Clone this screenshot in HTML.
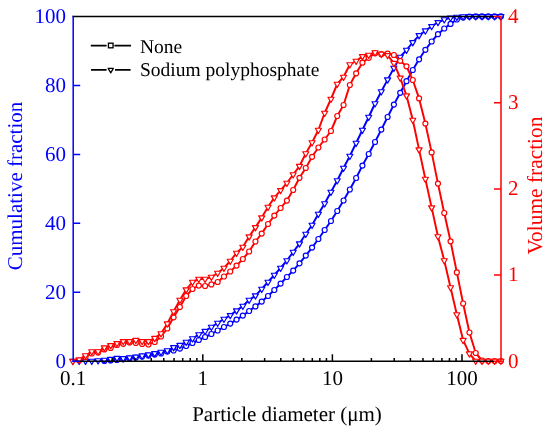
<!DOCTYPE html>
<html><head><meta charset="utf-8"><style>
html,body{margin:0;padding:0;background:#fff;width:550px;height:430px;overflow:hidden}
svg{display:block}
text{text-rendering:geometricPrecision}
</style></head><body>
<svg width="550" height="430" viewBox="0 0 550 430">
<rect width="550" height="430" fill="#fff"/>
<polyline fill="none" stroke="#0000ff" stroke-width="1.95" stroke-linejoin="round" points="72.9,361 79.19,361 85.49,361 91.78,361 98.08,361 104.37,361 110.66,360.5 116.96,360 123.25,359.2 129.55,358.4 135.84,357.6 142.14,356.6 148.43,355.5 154.72,354.4 161.02,353.5 167.31,351.5 173.61,350.5 179.9,348.6 186.19,346 192.49,343 198.78,340 205.08,337 211.37,334 217.66,330.5 223.96,327 230.25,323.6 236.55,319.6 242.84,315.6 249.14,311 255.43,306.4 261.72,301.6 268.02,296 274.31,290 280.61,283.6 286.9,277 293.19,270.6 299.49,263.3 305.78,255.6 312.08,247.6 318.37,239 324.66,230 330.96,221 337.25,211 343.55,200.5 349.84,189.5 356.14,178 362.43,165.6 368.72,154 375.02,142 381.31,129.6 387.61,117 393.9,104.6 400.19,92.8 406.49,81.2 412.78,70 419.08,59.3 425.37,49.8 431.66,41.5 437.96,34.2 444.25,28.5 450.55,23.9 456.84,19.5 463.14,17.5 469.43,16.6 475.72,16.4 482.02,16.4 488.31,16.4 494.61,16.4 500.9,16.4"/>
<g fill="#fff" stroke="#0000ff" stroke-width="1.2" stroke-linejoin="round"><circle cx="104.37" cy="361" r="2.5"/><circle cx="110.66" cy="360.5" r="2.5"/><circle cx="116.96" cy="360" r="2.5"/><circle cx="123.25" cy="359.2" r="2.5"/><circle cx="129.55" cy="358.4" r="2.5"/><circle cx="135.84" cy="357.6" r="2.5"/><circle cx="142.14" cy="356.6" r="2.5"/><circle cx="148.43" cy="355.5" r="2.5"/><circle cx="154.72" cy="354.4" r="2.5"/><circle cx="161.02" cy="353.5" r="2.5"/><circle cx="167.31" cy="351.5" r="2.5"/><circle cx="173.61" cy="350.5" r="2.5"/><circle cx="179.9" cy="348.6" r="2.5"/><circle cx="186.19" cy="346" r="2.5"/><circle cx="192.49" cy="343" r="2.5"/><circle cx="198.78" cy="340" r="2.5"/><circle cx="205.08" cy="337" r="2.5"/><circle cx="211.37" cy="334" r="2.5"/><circle cx="217.66" cy="330.5" r="2.5"/><circle cx="223.96" cy="327" r="2.5"/><circle cx="230.25" cy="323.6" r="2.5"/><circle cx="236.55" cy="319.6" r="2.5"/><circle cx="242.84" cy="315.6" r="2.5"/><circle cx="249.14" cy="311" r="2.5"/><circle cx="255.43" cy="306.4" r="2.5"/><circle cx="261.72" cy="301.6" r="2.5"/><circle cx="268.02" cy="296" r="2.5"/><circle cx="274.31" cy="290" r="2.5"/><circle cx="280.61" cy="283.6" r="2.5"/><circle cx="286.9" cy="277" r="2.5"/><circle cx="293.19" cy="270.6" r="2.5"/><circle cx="299.49" cy="263.3" r="2.5"/><circle cx="305.78" cy="255.6" r="2.5"/><circle cx="312.08" cy="247.6" r="2.5"/><circle cx="318.37" cy="239" r="2.5"/><circle cx="324.66" cy="230" r="2.5"/><circle cx="330.96" cy="221" r="2.5"/><circle cx="337.25" cy="211" r="2.5"/><circle cx="343.55" cy="200.5" r="2.5"/><circle cx="349.84" cy="189.5" r="2.5"/><circle cx="356.14" cy="178" r="2.5"/><circle cx="362.43" cy="165.6" r="2.5"/><circle cx="368.72" cy="154" r="2.5"/><circle cx="375.02" cy="142" r="2.5"/><circle cx="381.31" cy="129.6" r="2.5"/><circle cx="387.61" cy="117" r="2.5"/><circle cx="393.9" cy="104.6" r="2.5"/><circle cx="400.19" cy="92.8" r="2.5"/><circle cx="406.49" cy="81.2" r="2.5"/><circle cx="412.78" cy="70" r="2.5"/><circle cx="419.08" cy="59.3" r="2.5"/><circle cx="425.37" cy="49.8" r="2.5"/><circle cx="431.66" cy="41.5" r="2.5"/><circle cx="437.96" cy="34.2" r="2.5"/><circle cx="444.25" cy="28.5" r="2.5"/><circle cx="450.55" cy="23.9" r="2.5"/><circle cx="456.84" cy="19.5" r="2.5"/><circle cx="463.14" cy="17.5" r="2.5"/><circle cx="469.43" cy="16.6" r="2.5"/><circle cx="475.72" cy="16.4" r="2.5"/><circle cx="482.02" cy="16.4" r="2.5"/><circle cx="488.31" cy="16.4" r="2.5"/><circle cx="494.61" cy="16.4" r="2.5"/><circle cx="500.9" cy="16.4" r="2.5"/></g>
<polyline fill="none" stroke="#0000ff" stroke-width="1.95" stroke-linejoin="round" points="72.9,361 79.19,361 85.49,361 91.78,361 98.08,360.5 104.37,360 110.66,359.1 116.96,358.1 123.25,358.4 129.55,357.6 135.84,356.8 142.14,355.7 148.43,354.6 154.72,353.4 161.02,352 167.31,350.5 173.61,347.4 179.9,345.2 186.19,342 192.49,338.5 198.78,334.5 205.08,331.2 211.37,327 217.66,323 223.96,319 230.25,315.3 236.55,310.6 242.84,306 249.14,300 255.43,295.6 261.72,289 268.02,282 274.31,275 280.61,268 286.9,260.5 293.19,252 299.49,243.6 305.78,234 312.08,225 318.37,214 324.66,203.5 330.96,192 337.25,180.5 343.55,168 349.84,156 356.14,143 362.43,130 368.72,117 375.02,103.5 381.31,91.5 387.61,79.6 393.9,68 400.19,57 406.49,50 412.78,42.4 419.08,35.4 425.37,30.7 431.66,26.3 437.96,22.3 444.25,19.5 450.55,17.8 456.84,17 463.14,16.5 469.43,16.4 475.72,16.4 482.02,16.4 488.31,16.4 494.61,16.4 500.9,16.4"/>
<g fill="#fff" stroke="#0000ff" stroke-width="1.2" stroke-linejoin="round"><path d="M69.87 359.25H75.93L72.9 364.5Z"/><path d="M76.16 359.25H82.22L79.19 364.5Z"/><path d="M82.46 359.25H88.52L85.49 364.5Z"/><path d="M88.75 359.25H94.81L91.78 364.5Z"/><path d="M95.05 358.75H101.11L98.08 364Z"/><path d="M101.34 358.25H107.4L104.37 363.5Z"/><path d="M107.63 357.35H113.69L110.66 362.6Z"/><path d="M113.93 356.35H119.99L116.96 361.6Z"/><path d="M120.22 356.65H126.28L123.25 361.9Z"/><path d="M126.52 355.85H132.58L129.55 361.1Z"/><path d="M132.81 355.05H138.87L135.84 360.3Z"/><path d="M139.11 353.95H145.17L142.14 359.2Z"/><path d="M145.4 352.85H151.46L148.43 358.1Z"/><path d="M151.69 351.65H157.75L154.72 356.9Z"/><path d="M157.99 350.25H164.05L161.02 355.5Z"/><path d="M164.28 348.75H170.34L167.31 354Z"/><path d="M170.58 345.65H176.64L173.61 350.9Z"/><path d="M176.87 343.45H182.93L179.9 348.7Z"/><path d="M183.16 340.25H189.22L186.19 345.5Z"/><path d="M189.46 336.75H195.52L192.49 342Z"/><path d="M195.75 332.75H201.81L198.78 338Z"/><path d="M202.05 329.45H208.11L205.08 334.7Z"/><path d="M208.34 325.25H214.4L211.37 330.5Z"/><path d="M214.63 321.25H220.69L217.66 326.5Z"/><path d="M220.93 317.25H226.99L223.96 322.5Z"/><path d="M227.22 313.55H233.28L230.25 318.8Z"/><path d="M233.52 308.85H239.58L236.55 314.1Z"/><path d="M239.81 304.25H245.87L242.84 309.5Z"/><path d="M246.11 298.25H252.17L249.14 303.5Z"/><path d="M252.4 293.85H258.46L255.43 299.1Z"/><path d="M258.69 287.25H264.75L261.72 292.5Z"/><path d="M264.99 280.25H271.05L268.02 285.5Z"/><path d="M271.28 273.25H277.34L274.31 278.5Z"/><path d="M277.58 266.25H283.64L280.61 271.5Z"/><path d="M283.87 258.75H289.93L286.9 264Z"/><path d="M290.16 250.25H296.22L293.19 255.5Z"/><path d="M296.46 241.85H302.52L299.49 247.1Z"/><path d="M302.75 232.25H308.81L305.78 237.5Z"/><path d="M309.05 223.25H315.11L312.08 228.5Z"/><path d="M315.34 212.25H321.4L318.37 217.5Z"/><path d="M321.63 201.75H327.69L324.66 207Z"/><path d="M327.93 190.25H333.99L330.96 195.5Z"/><path d="M334.22 178.75H340.28L337.25 184Z"/><path d="M340.52 166.25H346.58L343.55 171.5Z"/><path d="M346.81 154.25H352.87L349.84 159.5Z"/><path d="M353.11 141.25H359.17L356.14 146.5Z"/><path d="M359.4 128.25H365.46L362.43 133.5Z"/><path d="M365.69 115.25H371.75L368.72 120.5Z"/><path d="M371.99 101.75H378.05L375.02 107Z"/><path d="M378.28 89.75H384.34L381.31 95Z"/><path d="M384.58 77.85H390.64L387.61 83.1Z"/><path d="M390.87 66.25H396.93L393.9 71.5Z"/><path d="M397.16 55.25H403.22L400.19 60.5Z"/><path d="M403.46 48.25H409.52L406.49 53.5Z"/><path d="M409.75 40.65H415.81L412.78 45.9Z"/><path d="M416.05 33.65H422.11L419.08 38.9Z"/><path d="M422.34 28.95H428.4L425.37 34.2Z"/><path d="M428.63 24.55H434.69L431.66 29.8Z"/><path d="M434.93 20.55H440.99L437.96 25.8Z"/><path d="M441.22 17.75H447.28L444.25 23Z"/><path d="M447.52 16.05H453.58L450.55 21.3Z"/><path d="M453.81 15.25H459.87L456.84 20.5Z"/><path d="M460.11 14.75H466.17L463.14 20Z"/><path d="M466.4 14.65H472.46L469.43 19.9Z"/><path d="M472.69 14.65H478.75L475.72 19.9Z"/><path d="M478.99 14.65H485.05L482.02 19.9Z"/><path d="M485.28 14.65H491.34L488.31 19.9Z"/><path d="M491.58 14.65H497.64L494.61 19.9Z"/><path d="M497.87 14.65H503.93L500.9 19.9Z"/></g>
<polyline fill="none" stroke="#ff0000" stroke-width="1.95" stroke-linejoin="round" points="72.9,361.5 79.19,360.5 85.49,357 91.78,353.5 98.08,352.5 104.37,349.4 110.66,348 116.96,345 123.25,343.8 129.55,342.5 135.84,343 142.14,344 148.43,344.5 154.72,342 161.02,336.5 167.31,328.5 173.61,317.3 179.9,307 186.19,296 192.49,289 198.78,285.6 205.08,286 211.37,284.4 217.66,282 223.96,276.5 230.25,271.5 236.55,265.6 242.84,259 249.14,251.5 255.43,241.5 261.72,233.6 268.02,224 274.31,215.6 280.61,208 286.9,200.6 293.19,190 299.49,177.8 305.78,168 312.08,156.8 318.37,147.5 324.66,139.5 330.96,131 337.25,116 343.55,105 349.84,85 356.14,73.3 362.43,62.7 368.72,57.8 375.02,53.2 381.31,54.2 387.61,53.7 393.9,55 400.19,60.8 406.49,66.3 412.78,80 419.08,98.4 425.37,123.6 431.66,152.4 437.96,183.6 444.25,213 450.55,241.3 456.84,272.4 463.14,303.5 469.43,332.5 475.72,353 482.02,360.5 488.31,361 494.61,361 500.9,361"/>
<g fill="#fff" stroke="#ff0000" stroke-width="1.2" stroke-linejoin="round"><circle cx="79.19" cy="360.5" r="2.5"/><circle cx="85.49" cy="357" r="2.5"/><circle cx="91.78" cy="353.5" r="2.5"/><circle cx="98.08" cy="352.5" r="2.5"/><circle cx="104.37" cy="349.4" r="2.5"/><circle cx="110.66" cy="348" r="2.5"/><circle cx="116.96" cy="345" r="2.5"/><circle cx="123.25" cy="343.8" r="2.5"/><circle cx="129.55" cy="342.5" r="2.5"/><circle cx="135.84" cy="343" r="2.5"/><circle cx="142.14" cy="344" r="2.5"/><circle cx="148.43" cy="344.5" r="2.5"/><circle cx="154.72" cy="342" r="2.5"/><circle cx="161.02" cy="336.5" r="2.5"/><circle cx="167.31" cy="328.5" r="2.5"/><circle cx="173.61" cy="317.3" r="2.5"/><circle cx="179.9" cy="307" r="2.5"/><circle cx="186.19" cy="296" r="2.5"/><circle cx="192.49" cy="289" r="2.5"/><circle cx="198.78" cy="285.6" r="2.5"/><circle cx="205.08" cy="286" r="2.5"/><circle cx="211.37" cy="284.4" r="2.5"/><circle cx="217.66" cy="282" r="2.5"/><circle cx="223.96" cy="276.5" r="2.5"/><circle cx="230.25" cy="271.5" r="2.5"/><circle cx="236.55" cy="265.6" r="2.5"/><circle cx="242.84" cy="259" r="2.5"/><circle cx="249.14" cy="251.5" r="2.5"/><circle cx="255.43" cy="241.5" r="2.5"/><circle cx="261.72" cy="233.6" r="2.5"/><circle cx="268.02" cy="224" r="2.5"/><circle cx="274.31" cy="215.6" r="2.5"/><circle cx="280.61" cy="208" r="2.5"/><circle cx="286.9" cy="200.6" r="2.5"/><circle cx="293.19" cy="190" r="2.5"/><circle cx="299.49" cy="177.8" r="2.5"/><circle cx="305.78" cy="168" r="2.5"/><circle cx="312.08" cy="156.8" r="2.5"/><circle cx="318.37" cy="147.5" r="2.5"/><circle cx="324.66" cy="139.5" r="2.5"/><circle cx="330.96" cy="131" r="2.5"/><circle cx="337.25" cy="116" r="2.5"/><circle cx="343.55" cy="105" r="2.5"/><circle cx="349.84" cy="85" r="2.5"/><circle cx="356.14" cy="73.3" r="2.5"/><circle cx="362.43" cy="62.7" r="2.5"/><circle cx="368.72" cy="57.8" r="2.5"/><circle cx="375.02" cy="53.2" r="2.5"/><circle cx="381.31" cy="54.2" r="2.5"/><circle cx="387.61" cy="53.7" r="2.5"/><circle cx="393.9" cy="55" r="2.5"/><circle cx="400.19" cy="60.8" r="2.5"/><circle cx="406.49" cy="66.3" r="2.5"/><circle cx="412.78" cy="80" r="2.5"/><circle cx="419.08" cy="98.4" r="2.5"/><circle cx="425.37" cy="123.6" r="2.5"/><circle cx="431.66" cy="152.4" r="2.5"/><circle cx="437.96" cy="183.6" r="2.5"/><circle cx="444.25" cy="213" r="2.5"/><circle cx="450.55" cy="241.3" r="2.5"/><circle cx="456.84" cy="272.4" r="2.5"/><circle cx="463.14" cy="303.5" r="2.5"/><circle cx="469.43" cy="332.5" r="2.5"/><circle cx="475.72" cy="353" r="2.5"/><circle cx="482.02" cy="360.5" r="2.5"/><circle cx="488.31" cy="361" r="2.5"/><circle cx="494.61" cy="361" r="2.5"/><circle cx="500.9" cy="361" r="2.5"/></g>
<polyline fill="none" stroke="#ff0000" stroke-width="1.95" stroke-linejoin="round" points="72.9,361.2 79.19,359.6 85.49,355.5 91.78,351.5 98.08,351.5 104.37,347.6 110.66,345.4 116.96,343.3 123.25,341.3 129.55,341.3 135.84,340.2 142.14,341.3 148.43,341.3 154.72,338.2 161.02,333.5 167.31,323.7 173.61,311.5 179.9,300 186.19,289.6 192.49,282 198.78,279 205.08,279 211.37,277 217.66,273 223.96,268 230.25,261 236.55,253 242.84,247 249.14,236.6 255.43,227.4 261.72,217.6 268.02,207 274.31,197.6 280.61,190.3 286.9,183 293.19,174.5 299.49,166.1 305.78,153.5 312.08,142.5 318.37,130 324.66,113 330.96,99 337.25,84 343.55,77 349.84,64.5 356.14,61 362.43,56.4 368.72,55 375.02,52.5 381.31,54 387.61,55.3 393.9,63.2 400.19,77.8 406.49,95.6 412.78,120 419.08,149.6 425.37,179 431.66,207.6 437.96,236.5 444.25,260.5 450.55,287.5 456.84,314.5 463.14,340.2 469.43,353.7 475.72,361 482.02,361 488.31,361 494.61,361 500.9,361"/>
<g fill="#fff" stroke="#ff0000" stroke-width="1.2" stroke-linejoin="round"><path d="M69.87 359.45H75.93L72.9 364.7Z"/><path d="M76.16 357.85H82.22L79.19 363.1Z"/><path d="M82.46 353.75H88.52L85.49 359Z"/><path d="M88.75 349.75H94.81L91.78 355Z"/><path d="M95.05 349.75H101.11L98.08 355Z"/><path d="M101.34 345.85H107.4L104.37 351.1Z"/><path d="M107.63 343.65H113.69L110.66 348.9Z"/><path d="M113.93 341.55H119.99L116.96 346.8Z"/><path d="M120.22 339.55H126.28L123.25 344.8Z"/><path d="M126.52 339.55H132.58L129.55 344.8Z"/><path d="M132.81 338.45H138.87L135.84 343.7Z"/><path d="M139.11 339.55H145.17L142.14 344.8Z"/><path d="M145.4 339.55H151.46L148.43 344.8Z"/><path d="M151.69 336.45H157.75L154.72 341.7Z"/><path d="M157.99 331.75H164.05L161.02 337Z"/><path d="M164.28 321.95H170.34L167.31 327.2Z"/><path d="M170.58 309.75H176.64L173.61 315Z"/><path d="M176.87 298.25H182.93L179.9 303.5Z"/><path d="M183.16 287.85H189.22L186.19 293.1Z"/><path d="M189.46 280.25H195.52L192.49 285.5Z"/><path d="M195.75 277.25H201.81L198.78 282.5Z"/><path d="M202.05 277.25H208.11L205.08 282.5Z"/><path d="M208.34 275.25H214.4L211.37 280.5Z"/><path d="M214.63 271.25H220.69L217.66 276.5Z"/><path d="M220.93 266.25H226.99L223.96 271.5Z"/><path d="M227.22 259.25H233.28L230.25 264.5Z"/><path d="M233.52 251.25H239.58L236.55 256.5Z"/><path d="M239.81 245.25H245.87L242.84 250.5Z"/><path d="M246.11 234.85H252.17L249.14 240.1Z"/><path d="M252.4 225.65H258.46L255.43 230.9Z"/><path d="M258.69 215.85H264.75L261.72 221.1Z"/><path d="M264.99 205.25H271.05L268.02 210.5Z"/><path d="M271.28 195.85H277.34L274.31 201.1Z"/><path d="M277.58 188.55H283.64L280.61 193.8Z"/><path d="M283.87 181.25H289.93L286.9 186.5Z"/><path d="M290.16 172.75H296.22L293.19 178Z"/><path d="M296.46 164.35H302.52L299.49 169.6Z"/><path d="M302.75 151.75H308.81L305.78 157Z"/><path d="M309.05 140.75H315.11L312.08 146Z"/><path d="M315.34 128.25H321.4L318.37 133.5Z"/><path d="M321.63 111.25H327.69L324.66 116.5Z"/><path d="M327.93 97.25H333.99L330.96 102.5Z"/><path d="M334.22 82.25H340.28L337.25 87.5Z"/><path d="M340.52 75.25H346.58L343.55 80.5Z"/><path d="M346.81 62.75H352.87L349.84 68Z"/><path d="M353.11 59.25H359.17L356.14 64.5Z"/><path d="M359.4 54.65H365.46L362.43 59.9Z"/><path d="M365.69 53.25H371.75L368.72 58.5Z"/><path d="M371.99 50.75H378.05L375.02 56Z"/><path d="M378.28 52.25H384.34L381.31 57.5Z"/><path d="M384.58 53.55H390.64L387.61 58.8Z"/><path d="M390.87 61.45H396.93L393.9 66.7Z"/><path d="M397.16 76.05H403.22L400.19 81.3Z"/><path d="M403.46 93.85H409.52L406.49 99.1Z"/><path d="M409.75 118.25H415.81L412.78 123.5Z"/><path d="M416.05 147.85H422.11L419.08 153.1Z"/><path d="M422.34 177.25H428.4L425.37 182.5Z"/><path d="M428.63 205.85H434.69L431.66 211.1Z"/><path d="M434.93 234.75H440.99L437.96 240Z"/><path d="M441.22 258.75H447.28L444.25 264Z"/><path d="M447.52 285.75H453.58L450.55 291Z"/><path d="M453.81 312.75H459.87L456.84 318Z"/><path d="M460.11 338.45H466.17L463.14 343.7Z"/><path d="M466.4 351.95H472.46L469.43 357.2Z"/><path d="M472.69 359.25H478.75L475.72 364.5Z"/><path d="M478.99 359.25H485.05L482.02 364.5Z"/><path d="M485.28 359.25H491.34L488.31 364.5Z"/><path d="M491.58 359.25H497.64L494.61 364.5Z"/><path d="M497.87 359.25H503.93L500.9 364.5Z"/></g>
<path d="M112.21 361.3V357.9M135.03 361.3V357.9M151.22 361.3V357.9M163.78 361.3V357.9M174.05 361.3V357.9M182.72 361.3V357.9M190.24 361.3V357.9M196.87 361.3V357.9M202.8 361.3V354.3M241.81 361.3V357.9M264.63 361.3V357.9M280.82 361.3V357.9M293.38 361.3V357.9M303.64 361.3V357.9M312.32 361.3V357.9M319.83 361.3V357.9M326.46 361.3V357.9M332.39 361.3V354.3M371.4 361.3V357.9M394.22 361.3V357.9M410.42 361.3V357.9M422.98 361.3V357.9M433.24 361.3V357.9M441.91 361.3V357.9M449.43 361.3V357.9M456.06 361.3V357.9M461.99 361.3V354.3" stroke="#000" stroke-width="1.5" fill="none"/>
<path d="M72.5 16.45H494M72.5 361.3H494" stroke="#000" stroke-width="1.5" fill="none"/>
<path d="M73.2 15.75V362M73.2 292.33H80.2M73.2 223.36H80.2M73.2 154.39H80.2M73.2 85.42H80.2" stroke="#0000ff" stroke-width="1.5" fill="none"/>
<path d="M72.5 361.3H80" stroke="#0000ff" stroke-width="1.5" fill="none"/>
<path d="M494 16.45H501V362M501 275.09H494M501 188.88H494M501 102.66H494 M494 361.3H501" stroke="#ff0000" stroke-width="1.5" fill="none"/>
<g font-family="'Liberation Serif','Times New Roman',serif"><text x="66" y="367.5" text-anchor="end" fill="#0000ff" font-size="21">0</text>
<text x="66" y="298.53" text-anchor="end" fill="#0000ff" font-size="21">20</text>
<text x="66" y="229.56" text-anchor="end" fill="#0000ff" font-size="21">40</text>
<text x="66" y="160.59" text-anchor="end" fill="#0000ff" font-size="21">60</text>
<text x="66" y="91.62" text-anchor="end" fill="#0000ff" font-size="21">80</text>
<text x="66" y="22.65" text-anchor="end" fill="#0000ff" font-size="21">100</text>
<text x="508" y="367.6" fill="#ff0000" font-size="21">0</text>
<text x="508" y="281.39" fill="#ff0000" font-size="21">1</text>
<text x="508" y="195.18" fill="#ff0000" font-size="21">2</text>
<text x="508" y="108.96" fill="#ff0000" font-size="21">3</text>
<text x="508" y="22.75" fill="#ff0000" font-size="21">4</text>
<text x="73.2" y="384.5" text-anchor="middle" fill="#000" font-size="21">0.1</text>
<text x="202.8" y="384.5" text-anchor="middle" fill="#000" font-size="21">1</text>
<text x="332.39" y="384.5" text-anchor="middle" fill="#000" font-size="21">10</text>
<text x="461.99" y="384.5" text-anchor="middle" fill="#000" font-size="21">100</text>
<text x="287" y="421" text-anchor="middle" fill="#000" font-size="21">Particle diameter (μm)</text>
<text transform="translate(22 186) rotate(-90)" text-anchor="middle" fill="#0000ff" font-size="21">Cumulative fraction</text>
<text transform="translate(541.5 185.6) rotate(-90)" text-anchor="middle" fill="#ff0000" font-size="21.4">Volume fraction</text>
<path d="M90.8 45.6H106.6M114.4 45.6H131M91 69.9H106.6M115 69.9H130.6" stroke="#000" stroke-width="1.75" fill="none"/>
<rect x="108.45" y="43.2" width="4.6" height="4.6" fill="#fff" stroke="#000" stroke-width="1.35"/>
<path d="M108.15 68.4H113.35L110.75 72.9Z" fill="#fff" stroke="#000" stroke-width="1.25" stroke-linejoin="round"/>
<text x="140" y="52.6" fill="#000" font-size="19.5">None</text>
<text x="140" y="76.3" fill="#000" font-size="19.5">Sodium polyphosphate</text></g>
</svg>
</body></html>
